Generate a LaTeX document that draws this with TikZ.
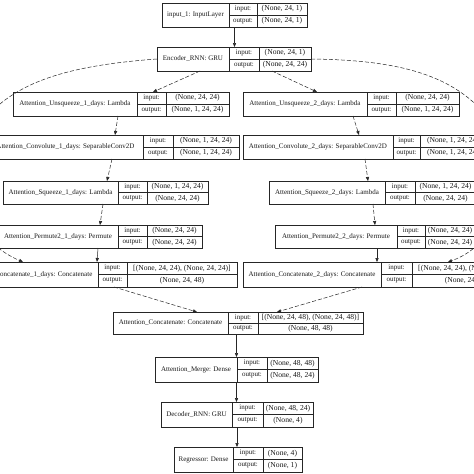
\documentclass[tikz,border=0pt]{standalone}
\usepackage{fontspec}
\setmainfont{Liberation Serif}
\usetikzlibrary{arrows.meta,calc}
\tikzset{
  recbox/.style={draw=black!85, line width=0.5pt, inner sep=0pt, outer sep=0pt, rectangle},
  recline/.style={draw=black!85, line width=0.5pt},
  titletext/.style={inner sep=0pt, font=\fontsize{7}{8}\selectfont, text=black!90},
  labtext/.style={inner sep=0pt, font=\fontsize{7}{8}\selectfont, text=black!90},
  valtext/.style={inner sep=0pt, font=\fontsize{7.6}{8}\selectfont, text=black!90},
  flow/.style={draw=black!85, line width=0.5pt, -{Triangle[length=4pt,width=3.2pt]}},
  dflow/.style={flow, dash pattern=on 4pt off 2pt},
}
% name, x0, x1, x2, x3, ytop, ybot, title, input ; then output
\newcommand\recbx[9]{\def\rn{#1}\def\ra{#2}\def\rb{#3}\def\rc{#4}\def\rd{#5}\def\rt{#6}\def\rbot{#7}\def\rtitle{#8}\def\rin{#9}\recbxend}
\newcommand\recbxend[1]{%
  \node[recbox, minimum width={(\rd-\ra)*1pt}, minimum height={(\rbot-\rt)*1pt}, anchor=north west] (\rn) at (\ra,\rt) {};
  \draw[recline] (\rb,\rt) -- (\rb,\rbot) (\rc,\rt) -- (\rc,\rbot) (\rb,{(\rt+\rbot)/2}) -- (\rd,{(\rt+\rbot)/2});
  \node[titletext] (\rn-t) at ({(\ra+\rb)/2},{(\rt+\rbot)/2}) {\rtitle};
  \node[labtext] (\rn-il) at ({(\rb+\rc)/2},{(3*\rt+\rbot)/4}) {input:};
  \node[labtext] (\rn-ol) at ({(\rb+\rc)/2},{(\rt+3*\rbot)/4}) {output:};
  \node[valtext] (\rn-i) at ({(\rc+\rd)/2},{(3*\rt+\rbot)/4}) {\rin};
  \node[valtext] (\rn-o) at ({(\rc+\rd)/2},{(\rt+3*\rbot)/4}) {#1};
}
\begin{document}
\begin{tikzpicture}[x=1pt,y=-1pt]
\useasboundingbox (0,0) rectangle (474,474);
\fill[white] (0,0) rectangle (474,474);
\clip (0,0) rectangle (474,474);

\recbx{in1}{162}{229}{257}{307}{3}{27}{input\_1: InputLayer}{(None, 24, 1)}{(None, 24, 1)}
\recbx{enc}{157}{229}{259}{311}{47}{71}{Encoder\_RNN: GRU}{(None, 24, 1)}{(None, 24, 24)}
\recbx{u1}{13}{137}{166}{229}{92}{116}{Attention\_Unsqueeze\_1\_days: Lambda}{(None, 24, 24)}{(None, 1, 24, 24)}
\recbx{u2}{243}{367}{396}{459}{92}{116}{Attention\_Unsqueeze\_2\_days: Lambda}{(None, 24, 24)}{(None, 1, 24, 24)}
\recbx{c1}{-12}{143}{173}{239}{135}{159}{Attention\_Convolute\_1\_days: SeparableConv2D}{(None, 1, 24, 24)}{(None, 1, 24, 24)}
\recbx{c2}{243}{393}{420}{486}{135}{159}{Attention\_Convolute\_2\_days: SeparableConv2D}{(None, 1, 24, 24)}{(None, 1, 24, 24)}
\recbx{s1}{3}{118}{147}{208}{181}{204}{Attention\_Squeeze\_1\_days: Lambda}{(None, 1, 24, 24)}{(None, 24, 24)}
\recbx{s2}{269}{385}{415}{476}{181}{204}{Attention\_Squeeze\_2\_days: Lambda}{(None, 1, 24, 24)}{(None, 24, 24)}
\recbx{p1}{-2}{118}{147}{202}{225}{248}{Attention\_Permute2\_1\_days: Permute}{(None, 24, 24)}{(None, 24, 24)}
\recbx{p2}{275}{397}{425}{475}{225}{248}{Attention\_Permute2\_2\_days: Permute}{(None, 24, 24)}{(None, 24, 24)}
\recbx{cc1}{-40}{98}{127}{237}{262}{287}{Attention\_Concatenate\_1\_days: Concatenate}{[(None, 24, 24), (None, 24, 24)]}{(None, 24, 48)}
\recbx{cc2}{243}{381}{412}{522}{262}{287}{Attention\_Concatenate\_2\_days: Concatenate}{[(None, 24, 24), (None, 24, 24)]}{(None, 24, 48)}
\recbx{att}{113}{228}{258}{363}{312}{334}{Attention\_Concatenate: Concatenate}{[(None, 24, 48), (None, 24, 48)]}{(None, 48, 48)}
\recbx{mrg}{155}{237}{267}{318}{357}{382}{Attention\_Merge: Dense}{(None, 48, 48)}{(None, 48, 24)}
\recbx{dec}{161}{232}{263}{313}{402}{427}{Decoder\_RNN: GRU}{(None, 48, 24)}{(None, 4)}
\recbx{reg}{174}{233}{263}{302}{447}{472}{Regressor: Dense}{(None, 4)}{(None, 1)}

% vertical connectors
\draw[flow] (in1.south) -- (in1.south |- enc.north);
\draw[flow] (att.south -| mrg.north) -- (mrg.north);
\draw[flow] (mrg.south) -- (mrg.south |- dec.north);
\draw[flow] (dec.south) -- (dec.south |- reg.north);

% encoder to unsqueeze
\draw[dflow] ($(enc.south west)+(43,0)$) -- ($(u1.north west)+(140,0)$);
\draw[dflow] ($(enc.south west)+(115,0)$) -- ($(u2.north west)+(74,0)$);

% left branch
\draw[dflow] ($(u1.south west)+(105,0)$) -- ($(c1.north west)+(127,0)$);
\draw[dflow] ($(c1.south west)+(124,0)$) -- ($(s1.north west)+(104,0)$);
\draw[dflow] ($(s1.south west)+(100,0)$) -- ($(p1.north west)+(102,0)$);
\draw[flow] ($(p1.south west)+(100,0)$) -- ($(cc1.north west)+(137,0)$);

% right branch
\draw[dflow] ($(u2.south west)+(110,0)$) -- ($(c2.north west)+(116,0)$);
\draw[dflow] ($(c2.south west)+(122,0)$) -- ($(s2.north west)+(99,0)$);
\draw[dflow] ($(s2.south west)+(104,0)$) -- ($(p2.north west)+(100,0)$);
\draw[flow] ($(p2.south west)+(102,0)$) -- ($(cc2.north west)+(134,0)$);

% concatenates to attention concatenate
\draw[dflow] ($(cc1.south west)+(154,0)$) -- ($(att.north west)+(84,0)$);
\draw[dflow] ($(cc2.south west)+(119,0)$) -- ($(att.north west)+(164,0)$);

% long skip connections
\draw[dflow] (enc.west) .. controls (60,66) and (10,85) .. (-20,125)
  .. controls (-45,165) and (-40,235) .. ($(cc1.north west)+(63,0)$);
\draw[dflow] (enc.east) .. controls (400,60) and (455,75) .. (490,120)
  .. controls (515,160) and (510,240) .. ($(cc2.north west)+(205,0)$);
\end{tikzpicture}
\end{document}
